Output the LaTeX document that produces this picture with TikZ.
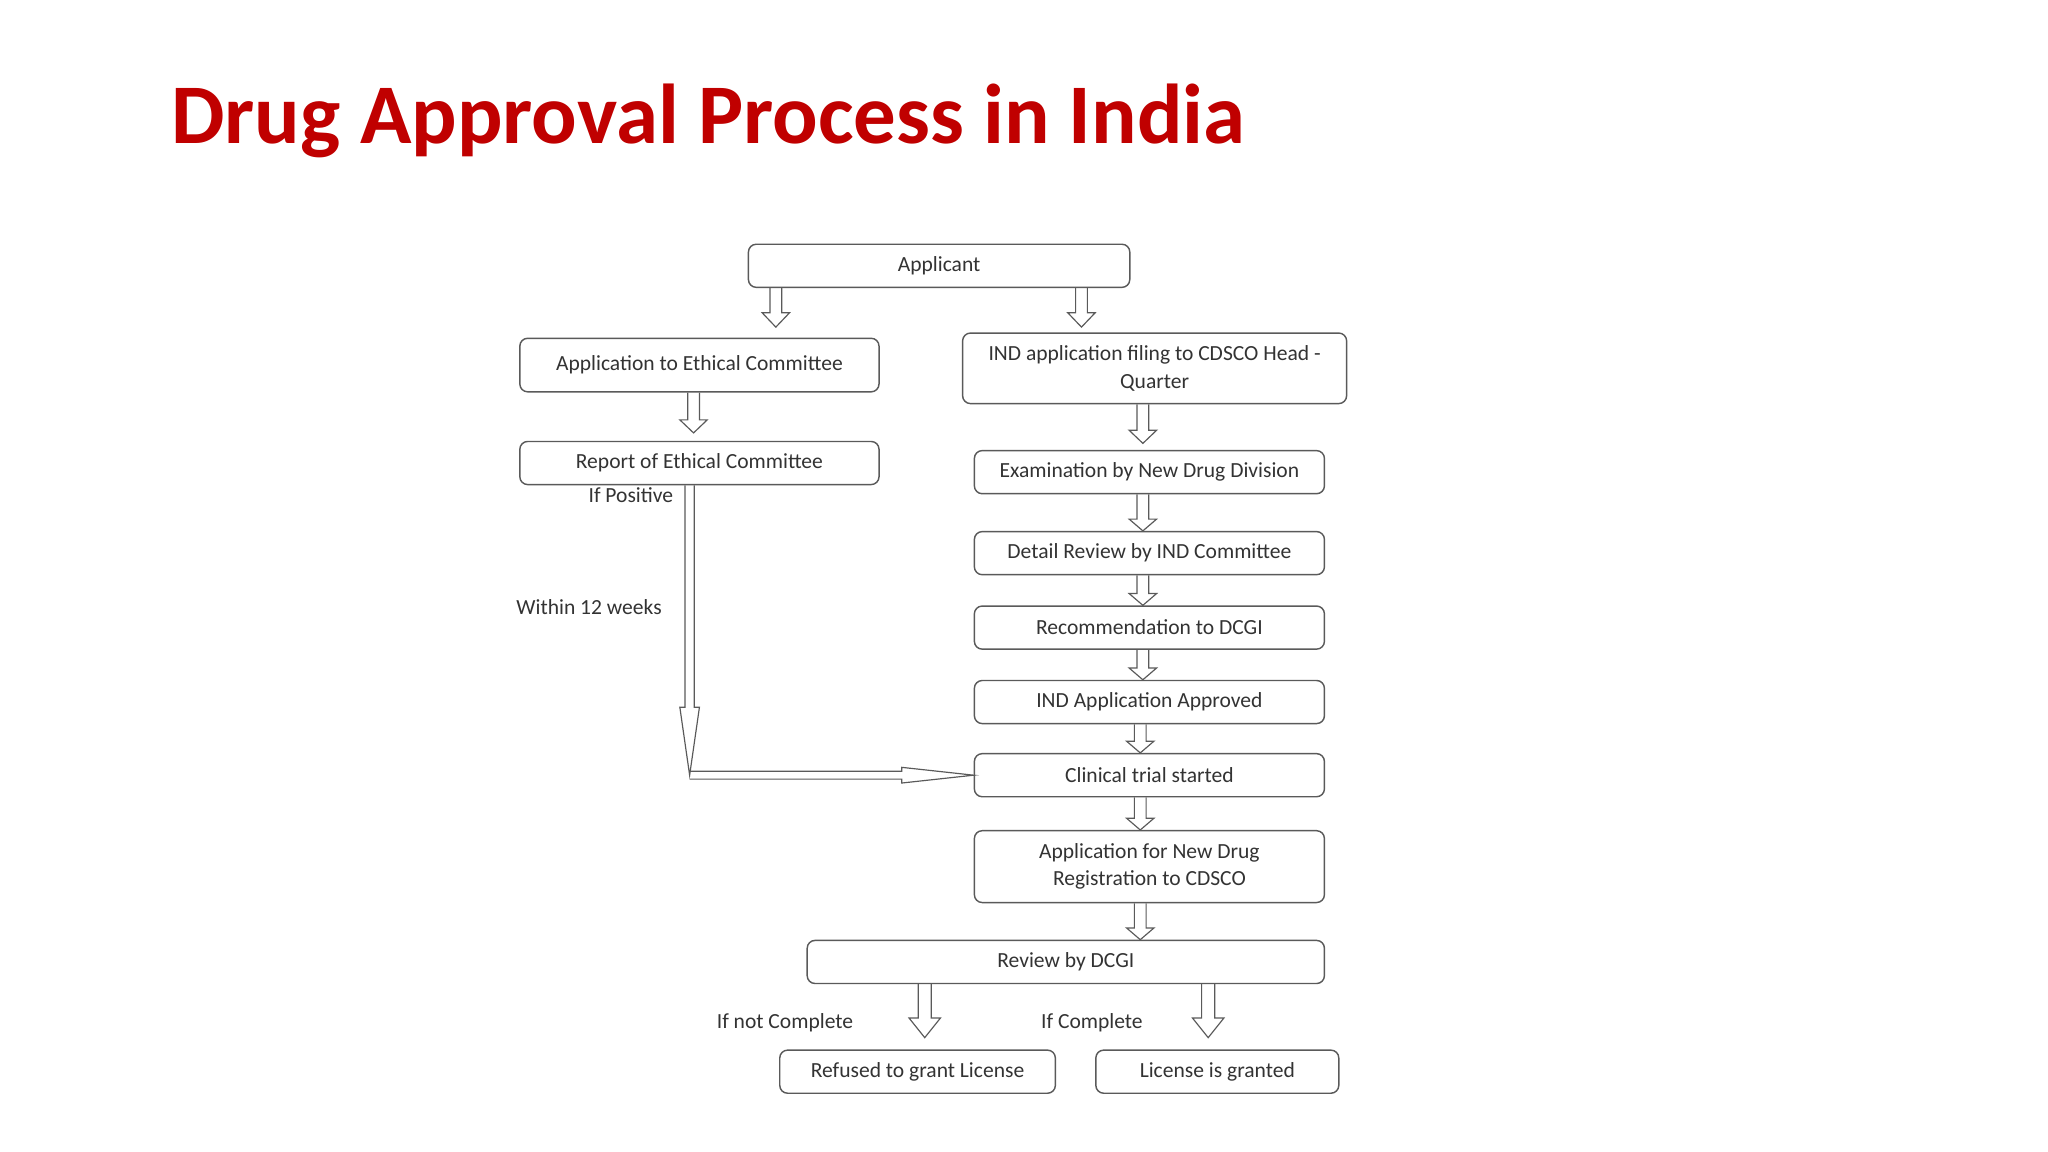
\documentclass[tikz,border=0pt]{standalone}
\usepackage{fontspec}
\usetikzlibrary{calc}
\setmainfont{Carlito}
\newfontfamily\boxfont{Carlito}
\definecolor{titlered}{HTML}{C00000}
\definecolor{boxline}{HTML}{5A5A5A}
\definecolor{boxtext}{HTML}{333333}
\tikzset{
  box/.style={draw=boxline, line width=1.1pt, rounded corners=6pt, fill=white,
    text=boxtext, align=center, inner sep=0pt,
    font=\boxfont\fontsize{16.5}{21}\selectfont},
  lbl/.style={text=boxtext, inner sep=0pt, font=\boxfont\fontsize{16.5}{21}\selectfont},
  hollow/.style={draw=boxline, line width=0.9pt, line join=miter}
}
% hollow block arrow: start, tip, shaft half width, head half width, head length
\newcommand{\blockarrow}[5]{%
  \coordinate (ba-h) at ($(#2)!#5!(#1)$);
  \draw[hollow] ($(#1)!#3!90:(#2)$) -- ($(ba-h)!#3!90:(#2)$) -- ($(ba-h)!#4!90:(#2)$)
    -- (#2) -- ($(ba-h)!#4!-90:(#2)$) -- ($(ba-h)!#3!-90:(#2)$) -- ($(#1)!#3!-90:(#2)$);
}
\begin{document}
\begin{tikzpicture}[x=1pt,y=-1pt]
    \useasboundingbox[fill=white] (0,0) rectangle (1568,882);
    \node[anchor=base west, text=titlered, inner sep=0pt,
      font=\bfseries\fontsize{65}{72}\selectfont] (title) at (131,110) {Drug Approval Process in India};
    % boxes
    \node[box, minimum width=292pt, minimum height=33pt] (applicant) at (719,203.5) {Applicant};
    \node[box, minimum width=275pt, minimum height=41pt] (ethic) at (535.5,279.5) {Application to Ethical Committee};
    \node[box, minimum width=294pt, minimum height=54pt] (ind) at (884,282) {IND application filing to CDSCO Head -\\Quarter};
    \node[box, minimum width=275pt, minimum height=33pt] (report) at (535.5,354.5) {Report of Ethical Committee};
    \node[box, minimum width=268pt, minimum height=33pt] (exam) at (880,361.5) {Examination by New Drug Division};
    \node[box, minimum width=268pt, minimum height=33pt] (detail) at (880,423.5) {Detail Review by IND Committee};
    \node[box, minimum width=268pt, minimum height=33pt] (recom) at (880,480.5) {Recommendation to DCGI};
    \node[box, minimum width=268pt, minimum height=33pt] (approved) at (880,537.5) {IND Application Approved};
    \node[box, minimum width=268pt, minimum height=33pt] (clinical) at (880,593.5) {Clinical trial started};
    \node[box, minimum width=268pt, minimum height=55pt] (newdrug) at (880,663.5) {Application for New Drug\\Registration to CDSCO};
    \node[box, minimum width=396pt, minimum height=33pt] (review) at (816,736.5) {Review by DCGI};
    \node[box, minimum width=211pt, minimum height=33pt] (refused) at (702.5,820.5) {Refused to grant License};
    \node[box, minimum width=186pt, minimum height=33pt] (granted) at (932,820.5) {License is granted};
    % labels
    \node[lbl] (positive) at (483,379) {If Positive};
    \node[lbl] (weeks) at (451,465) {Within 12 weeks};
    \node[lbl] (notcomplete) at (601,783) {If not Complete};
    \node[lbl] (complete) at (836,783) {If Complete};
    % arrow starts and tips
    \coordinate (s1) at ([xshift=-125pt]applicant.south);
    \coordinate (s2) at ([xshift=109pt]applicant.south);
    \coordinate (s3) at ([xshift=-4.5pt]ethic.south);
    \coordinate (s4) at ([xshift=-9pt]ind.south);
    \coordinate (s5) at ([xshift=-5pt]exam.south);
    \coordinate (s6) at ([xshift=-5pt]detail.south);
    \coordinate (s7) at ([xshift=-5pt]recom.south);
    \coordinate (s8) at ([xshift=-7pt]approved.south);
    \coordinate (s9) at ([xshift=-7pt]clinical.south);
    \coordinate (s10) at ([xshift=-7pt]newdrug.south);
    \coordinate (s11) at ([xshift=-108pt]review.south);
    \coordinate (s12) at ([xshift=109pt]review.south);
    \coordinate (s13) at ([xshift=-7.5pt]report.south);
    \path (s1 |- ethic.north) ++(0,-8) coordinate (e1);
    \path (s2 |- ind.north) ++(0,-4) coordinate (e2);
    \path (s3 |- report.north) ++(0,-6) coordinate (e3);
    \path (s4 |- exam.north) ++(0,-5) coordinate (e4);
    \path (s11 |- refused.north) ++(0,-9) coordinate (e11);
    \path (s12 |- granted.north) ++(0,-9) coordinate (e12);
    \coordinate (elbow) at (s13 |- clinical.west);
    % arrows
    \blockarrow{s1}{e1}{4.5pt}{10.5pt}{11pt}
    \blockarrow{s2}{e2}{4.5pt}{10.5pt}{11pt}
    \blockarrow{s3}{e3}{4.5pt}{10.5pt}{10pt}
    \blockarrow{s4}{e4}{4.5pt}{10.5pt}{10pt}
    \blockarrow{s5}{s5 |- detail.north}{4.5pt}{10.5pt}{9pt}
    \blockarrow{s6}{s6 |- recom.north}{4.5pt}{10.5pt}{9pt}
    \blockarrow{s7}{s7 |- approved.north}{4.5pt}{10.5pt}{9pt}
    \blockarrow{s8}{s8 |- clinical.north}{4.5pt}{10.5pt}{9pt}
    \blockarrow{s9}{s9 |- newdrug.north}{4.5pt}{10.5pt}{9pt}
    \blockarrow{s10}{s10 |- review.north}{4.5pt}{10.5pt}{9pt}
    \blockarrow{s11}{e11}{5pt}{12pt}{15pt}
    \blockarrow{s12}{e12}{5pt}{12pt}{15pt}
    \blockarrow{s13}{elbow}{3.5pt}{7.5pt}{52pt}
    \blockarrow{elbow}{clinical.west}{3pt}{6pt}{55pt}
\end{tikzpicture}
\end{document}
